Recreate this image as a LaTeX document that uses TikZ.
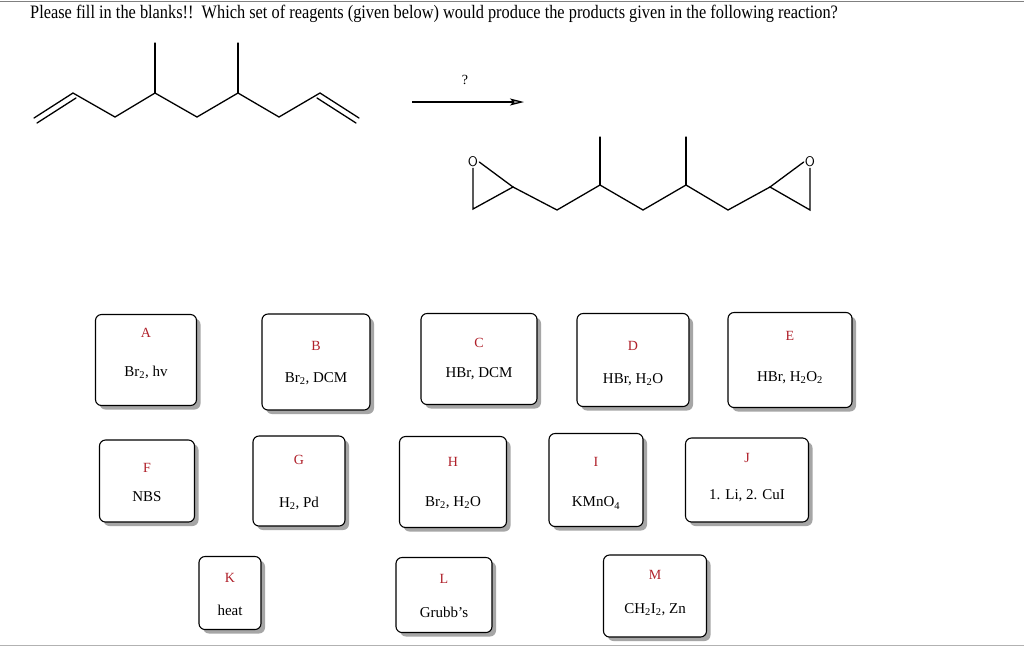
\documentclass[tikz,border=0pt]{standalone}
\usepackage{fontspec}
\setmainfont{Liberation Serif}
\usetikzlibrary{shadows,arrows.meta}
\definecolor{lab}{HTML}{B0202A}
\begin{document}
\begin{tikzpicture}[x=1pt,y=-1pt,
  bond/.style={line width=1.3pt,line cap=round},
  box/.style={draw,line width=1.1pt,rounded corners=6pt,fill=white,
    drop shadow={shadow xshift=4pt,shadow yshift=-4pt,fill=gray!70,opacity=1}},
  lbl/.style={text=lab,font=\fontsize{14}{16}\selectfont},
  rg/.style={font=\fontsize{15}{17}\selectfont}]
\useasboundingbox (0,0) rectangle (1024,649);
\fill[white] (0,0) rectangle (1024,649);
\draw[gray,line width=1pt] (0,1.5)--(1024,1.5);
\draw[gray!60,line width=1pt] (0,645)--(1024,645);
\node[anchor=west,font=\fontsize{19}{21}\selectfont,xscale=0.86,inner sep=0] (title) at (30,14)
 {Please fill in the blanks!!\ \ Which set of reagents (given below) would produce the products given in the following reaction?};
% reactant
\coordinate (a1) at (34,118); \coordinate (a2) at (73,93); \coordinate (a3) at (115,117);
\coordinate (a4) at (155,93); \coordinate (m1) at (155,43); \coordinate (a5) at (197,117);
\coordinate (a6) at (238,93); \coordinate (m2) at (238,43); \coordinate (a7) at (279,117);
\coordinate (a8) at (320,93); \coordinate (a9) at (359,118);
\draw[bond] (a1)--(a2)--(a3)--(a4)--(a5)--(a6)--(a7)--(a8)--(a9);
\draw[bond] (a4)--(m1); \draw[bond] (a6)--(m2);
\draw[bond] ([shift={(3,5)}]a1)--([shift={(3,5)}]a2);
\draw[bond] ([shift={(-3,5)}]a8)--([shift={(-3,5)}]a9);
% arrow
\coordinate (r1) at (412,102); \coordinate (r2) at (524,102);
\draw[line width=1.2pt,-{Stealth[length=14pt,width=7pt,inset=3pt,fill=gray!70]}] (r1)--(r2);
\node[font=\fontsize{14}{16}\selectfont] (q) at (465,80) {?};
% product
\node[font=\sffamily\fontsize{14}{16}\selectfont,inner sep=1pt] (o1) at (473,162) {O};
\node[font=\sffamily\fontsize{14}{16}\selectfont,inner sep=1pt] (o2) at (810,162) {O};
\coordinate (p0) at (473,209); \coordinate (p1) at (513,187); \coordinate (p2) at (557,210);
\coordinate (p3) at (600,185); \coordinate (n1) at (600,137); \coordinate (p4) at (643,210);
\coordinate (p5) at (686,185); \coordinate (n2) at (686,137); \coordinate (p6) at (728,210);
\coordinate (p7) at (770,187); \coordinate (p8) at (810,210);
\draw[bond] (o1.south)--(p0)--(p1)--(o1.east);
\draw[bond] (p1)--(p2)--(p3)--(p4)--(p5)--(p6)--(p7);
\draw[bond] (p3)--(n1); \draw[bond] (p5)--(n2);
\draw[bond] (o2.south)--(p8)--(p7)--(o2.west);
% boxes
\newcommand{\rbox}[8]{%
 \node[box,minimum width=#3,minimum height=#4] (#5) at (#1,#2) {};
 \node[lbl] (#5l) at (#1,#6) {#5};
 \node[rg] (#5t) at (#1,#7) {#8};}
\rbox{146}{360}{101pt}{91pt}{A}{333}{372}{Br\textsubscript{2}, hv}
\rbox{316}{362}{108pt}{96pt}{B}{346}{379}{Br\textsubscript{2}, DCM}
\rbox{479}{359}{116pt}{91pt}{C}{343}{374}{HBr, DCM}
\rbox{633}{360}{112pt}{93pt}{D}{346}{380}{HBr, H\textsubscript{2}O}
\rbox{790}{360}{124pt}{95pt}{E}{336}{378}{HBr, H\textsubscript{2}O\textsubscript{2}}
\rbox{147}{481}{95pt}{82pt}{F}{468}{497}{NBS}
\rbox{299}{481}{92pt}{90pt}{G}{460}{503}{H\textsubscript{2}, Pd}
\rbox{453}{482}{107pt}{91pt}{H}{462}{503}{Br\textsubscript{2}, H\textsubscript{2}O}
\rbox{596}{480}{94pt}{93pt}{I}{462}{503}{KMnO\textsubscript{4}}
\rbox{747}{480}{123pt}{84pt}{J}{458}{496}{1. Li, 2. CuI}
\rbox{230}{593}{62pt}{73pt}{K}{578}{610}{heat}
\rbox{444}{595}{96pt}{75pt}{L}{579}{612}{Grubb's}
\rbox{655}{596}{103pt}{82pt}{M}{575}{610}{CH\textsubscript{2}I\textsubscript{2}, Zn}
\end{tikzpicture}
\end{document}
